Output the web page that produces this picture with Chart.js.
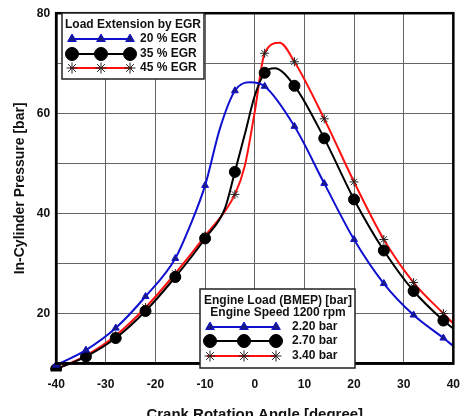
<!DOCTYPE html>
<html><head><meta charset="utf-8">
<script src="https://cdn.jsdelivr.net/npm/chart.js@4"></script>
<style>html,body{margin:0;padding:0;background:#fff}#w{width:474px;height:416px}</style>
</head><body><div id="w"><canvas id="c"></canvas></div>
<script>
const angles20 = [-40,-34,-28,-22,-16,-13,-10,-7,-4,-1,2,8,14,20,26,32,38,40];
const egr20    = [9.7,12.7,17.1,23.4,31,37.6,45.6,57,64.5,66.2,65.4,57.4,46,34.8,26,19.7,15.1,13.5];
const angles35 = [-40,-34,-28,-22,-16,-10,-6,-4,-2,0,2,4,8,14,20,26,32,38,40];
const egr35    = [8.9,11.4,15.1,20.5,27.3,35,41,48.3,55.8,63.5,68.1,69,65.5,55,42.8,32.6,24.5,18.6,17];
const angles45 = [-40,-34,-28,-22,-16,-10,-4,-2,0,2,5,8,14,20,26,32,38,40];
const egr45    = [8.9,11.6,15.6,21.2,28,35.5,43.8,49.5,60.3,72,74.1,70.3,58.9,46.3,34.8,26.2,20,18];
const markerAngles = [-40,-34,-28,-22,-16,-10,-4,2,8,14,20,26,32,38];
const seriesLabels = ['20 % EGR','35 % EGR','45 % EGR'];
const loadLabels = ['2.20 bar','2.70 bar','3.40 bar'];
const xTicks = [-40,-30,-20,-10,0,10,20,30,40];
const yTickLabels = [20,40,60,80];

const styles = [
  {color:'#1010d0', style:'triangle', r:4, bg:'#1a1a80', border:'#1010d0'},
  {color:'#000000', style:'circle', r:5.5, bg:'#000', border:'#000'},
  {color:'#ff1010', style:'star', r:4.5, bg:'#fff', border:'#222'}
];
function mk(xs, ys){ return xs.map((x,i)=>({x, y:ys[i]})); }
function ds(label, data, s){
  return {label, data, borderColor:s.color, borderWidth:2, tension:0.4, cubicInterpolationMode:'monotone', clip:8,
    pointStyle:s.style, pointBackgroundColor:s.bg, pointBorderColor:s.border, pointBorderWidth:1,
    pointRadius: ctx => markerAngles.includes(ctx.raw && ctx.raw.x) ? s.r : 0, pointHoverRadius:0};
}
const legendPlugin = {
  id:'legs',
  afterDraw(chart){
    const c = chart.ctx, a = chart.chartArea;
    c.save();
    c.strokeStyle='#000'; c.lineWidth=2.5; c.strokeRect(a.left,a.top,a.right-a.left,a.bottom-a.top);
    function box(x,y,w,h){ c.fillStyle='#fff'; c.fillRect(x,y,w,h); c.strokeStyle='#222'; c.lineWidth=1.5; c.strokeRect(x,y,w,h); }
    function row(x0,x1,y,s,pts){
      c.strokeStyle=s.color; c.lineWidth=2; c.beginPath(); c.moveTo(x0,y); c.lineTo(x1,y); c.stroke();
      pts.forEach(px=>{ c.fillStyle=s.bg; c.strokeStyle=s.border; c.lineWidth=1;
        Chart.helpers.drawPoint(c,{pointStyle:s.style,radius:s.r+1,rotation:0,borderWidth:1},px,y); });
    }
    c.font='bold 12px "Liberation Sans", Arial'; c.textBaseline='middle';
    box(62,13,142,66);
    c.fillStyle='#111'; c.textAlign='center'; c.fillText('Load Extension by EGR',133,25);
    c.textAlign='left';
    [39,54,68].forEach((y,i)=>{ row(70,132,y,styles[i],[72,101,130]); c.fillStyle='#111'; c.fillText(seriesLabels[i],140,y); });
    box(200,289,155,79);
    c.fillStyle='#111'; c.textAlign='center';
    c.fillText('Engine Load (BMEP) [bar]',278,301); c.fillText('Engine Speed 1200 rpm',278,313);
    c.textAlign='left';
    [327,341,356].forEach((y,i)=>{ row(207,276,y,styles[i],[210,244,276]); c.fillStyle='#111'; c.fillText(loadLabels[i],292,y); });
    c.restore();
  }
};
new Chart(document.getElementById('c'), {
  type:'line',
  data:{datasets:[ds(seriesLabels[0],mk(angles20,egr20),styles[0]), ds(seriesLabels[1],mk(angles35,egr35),styles[1]), ds(seriesLabels[2],mk(angles45,egr45),styles[2])]},
  options:{
    responsive:true, maintainAspectRatio:false, animation:false,
    layout:{padding:{top:7,right:5,left:8,bottom:-12}},
    plugins:{legend:{display:false}, tooltip:{enabled:false}},
    scales:{
      x:{type:'linear', min:-40, max:40, afterBuildTicks: ax=>{ax.ticks = xTicks.map(v=>({value:v}));},
        grid:{color:'#666', lineWidth:1, drawTicks:false}, border:{color:'#000',width:2.5},
        ticks:{color:'#111', font:{family:'"Liberation Sans", Arial', weight:'bold', size:12}, padding:14, maxRotation:0},
        title:{display:true, text:'Crank Rotation Angle [degree]', color:'#111', font:{family:'"Liberation Sans", Arial', weight:'bold', size:15}, padding:{top:0}}},
      y:{min:10, max:80, ticks:{stepSize:10, color:'#111', padding:6, font:{family:'"Liberation Sans", Arial', weight:'bold', size:12},
          callback:v=> yTickLabels.includes(v) ? String(v) : ''},
        grid:{color:'#666', lineWidth:1, drawTicks:false}, border:{color:'#000',width:2.5},
        title:{display:true, text:'In-Cylinder Pressure [bar]', color:'#111', font:{family:'"Liberation Sans", Arial', weight:'bold', size:14}, padding:{bottom:2}}}
    }
  },
  plugins:[legendPlugin]
});
</script></body></html>
